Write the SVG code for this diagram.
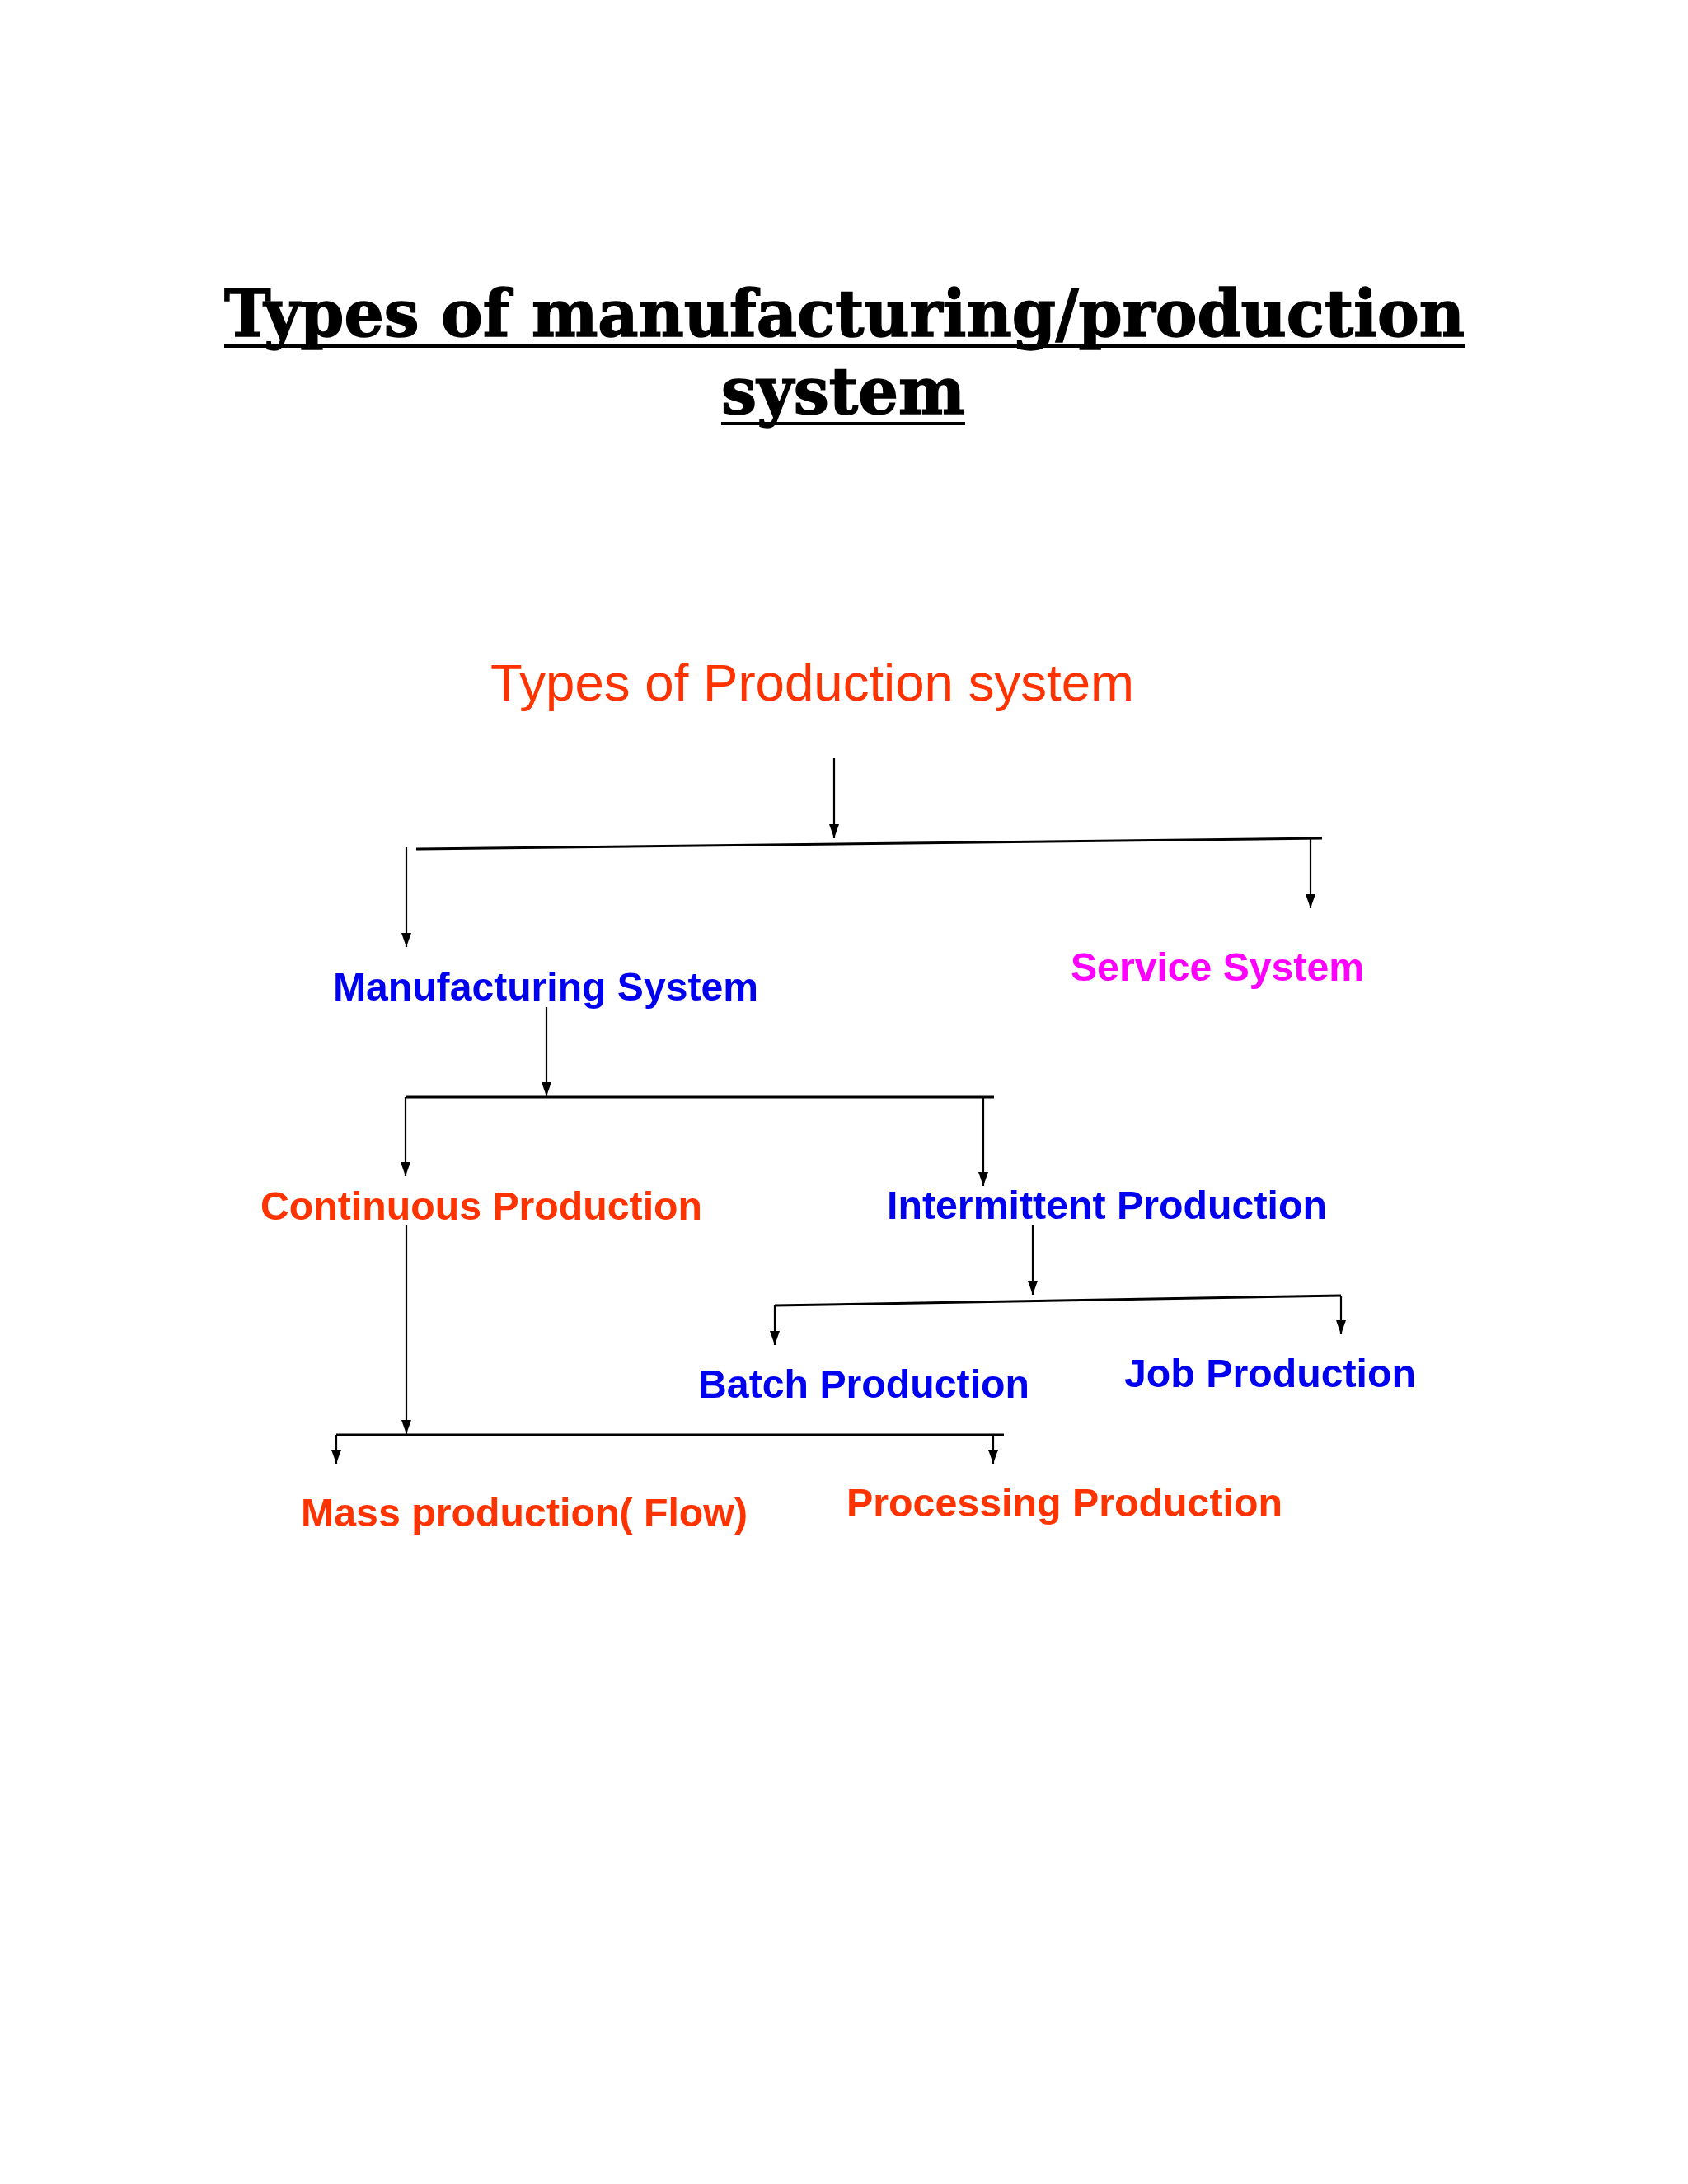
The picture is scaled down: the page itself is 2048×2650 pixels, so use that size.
<svg xmlns="http://www.w3.org/2000/svg" width="2048" height="2650" viewBox="0 0 2048 2650">
<style>
.title{font-family:"DejaVu Serif","Liberation Serif",serif;font-weight:bold;font-size:78px;fill:#000;stroke:#000;stroke-width:1.5}
.root{font-family:"Liberation Sans",Arial,sans-serif;font-size:63px;fill:#FF3300}
.lbl{font-family:"Liberation Sans",Arial,sans-serif;font-weight:bold;font-size:48px}
.red{fill:#FF3300}.blue{fill:#0000F0}.mag{fill:#FF00FF}
.c line{stroke:#000;stroke-width:2.2}
.c line.bar{stroke-width:3}
</style>
<defs>
<marker id="av" markerUnits="userSpaceOnUse" markerWidth="17" markerHeight="12" refX="17" refY="6" orient="auto" viewBox="0 0 17 12">
<path d="M0,0 L17,6 L0,12 z" fill="#000"/>
</marker>
</defs>
<rect width="2048" height="2650" fill="#fff"/>
<g id="title">
<text class="title" x="272" y="408" textLength="1505" lengthAdjust="spacingAndGlyphs">Types of manufacturing/production</text>
<rect x="272" y="418" width="1505" height="4" fill="#000"/>
<text class="title" x="875" y="502" textLength="296" lengthAdjust="spacingAndGlyphs">system</text>
<rect x="875" y="512" width="296" height="4" fill="#000"/>
</g>
<g id="n-root"><text class="root" x="595" y="850" textLength="781" lengthAdjust="spacingAndGlyphs">Types of Production system</text></g>
<g id="n-manufacturing"><text class="lbl blue" x="404" y="1214" textLength="516" lengthAdjust="spacingAndGlyphs">Manufacturing System</text></g>
<g id="n-service"><text class="lbl mag" x="1299" y="1190" textLength="356" lengthAdjust="spacingAndGlyphs">Service System</text></g>
<g id="n-continuous"><text class="lbl red" x="316" y="1480" textLength="536" lengthAdjust="spacingAndGlyphs">Continuous Production</text></g>
<g id="n-intermittent"><text class="lbl blue" x="1076" y="1479" textLength="534" lengthAdjust="spacingAndGlyphs">Intermittent Production</text></g>
<g id="n-batch"><text class="lbl blue" x="847" y="1696" textLength="402" lengthAdjust="spacingAndGlyphs">Batch Production</text></g>
<g id="n-job"><text class="lbl blue" x="1364" y="1683" textLength="354" lengthAdjust="spacingAndGlyphs">Job Production</text></g>
<g id="n-mass"><text class="lbl red" x="365" y="1852" textLength="542" lengthAdjust="spacingAndGlyphs">Mass production( Flow)</text></g>
<g id="n-processing"><text class="lbl red" x="1027" y="1840" textLength="529" lengthAdjust="spacingAndGlyphs">Processing Production</text></g>
<g id="connectors" class="c">
<line x1="1012" y1="920" x2="1012" y2="1017" marker-end="url(#av)"/>
<line class="bar" x1="505" y1="1030" x2="1604" y2="1017"/>
<line x1="493" y1="1028" x2="493" y2="1149" marker-end="url(#av)"/>
<line x1="1590" y1="1017" x2="1590" y2="1102" marker-end="url(#av)"/>
<line x1="663" y1="1222" x2="663" y2="1330" marker-end="url(#av)"/>
<line class="bar" x1="492" y1="1331" x2="1206" y2="1331"/>
<line x1="492" y1="1331" x2="492" y2="1427" marker-end="url(#av)"/>
<line x1="1193" y1="1331" x2="1193" y2="1439" marker-end="url(#av)"/>
<line x1="493" y1="1486" x2="493" y2="1740" marker-end="url(#av)"/>
<line x1="1253" y1="1486" x2="1253" y2="1571" marker-end="url(#av)"/>
<line class="bar" x1="940" y1="1584" x2="1627" y2="1572"/>
<line x1="940" y1="1584" x2="940" y2="1632" marker-end="url(#av)"/>
<line x1="1627" y1="1572" x2="1627" y2="1619" marker-end="url(#av)"/>
<line class="bar" x1="408" y1="1741" x2="1218" y2="1741"/>
<line x1="408" y1="1741" x2="408" y2="1776" marker-end="url(#av)"/>
<line x1="1205" y1="1741" x2="1205" y2="1776" marker-end="url(#av)"/>
</g>
</svg>
